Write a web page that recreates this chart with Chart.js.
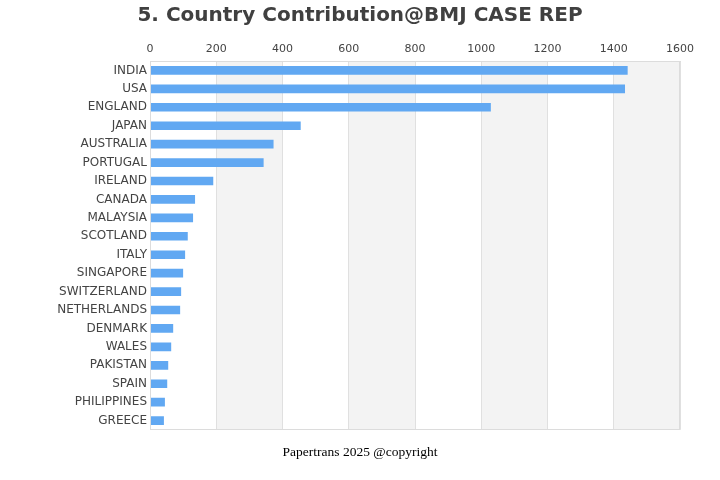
<!DOCTYPE html>
<html>
<head>
<meta charset="utf-8">
<script src="https://cdn.jsdelivr.net/npm/chart.js@4"></script>
<style>
html,body{margin:0;padding:0;background:#fff;}
#wrap{width:720px;height:480px;}
</style>
</head>
<body>
<div id="wrap"><canvas id="c" width="720" height="480"></canvas></div>
<script>
const categories = ["INDIA","USA","ENGLAND","JAPAN","AUSTRALIA","PORTUGAL","IRELAND","CANADA","MALAYSIA","SCOTLAND","ITALY","SINGAPORE","SWITZERLAND","NETHERLANDS","DENMARK","WALES","PAKISTAN","SPAIN","PHILIPPINES","GREECE"];
const counts = [1441,1433,1028,454,372,342,190,135,129,113,105,99,93,90,69,63,54,51,44,41];
const titleText = "5. Country Contribution@BMJ CASE REP";
const footerText = "Papertrans 2025 @copyright";

const bandPlugin = {
  id: 'bands',
  beforeDraw(chart) {
    const {ctx, chartArea, scales} = chart;
    const x = scales.x;
    const ticks = x.ticks;
    ctx.save();
    for (let i = 0; i < ticks.length - 1; i++) {
      if (i % 2 === 1) {
        const x0 = x.getPixelForValue(ticks[i].value);
        const x1 = x.getPixelForValue(ticks[i + 1].value);
        ctx.fillStyle = '#f3f3f3';
        ctx.fillRect(x0, chartArea.top, x1 - x0, chartArea.bottom - chartArea.top);
      }
    }
    ctx.restore();
  },
  afterDatasetsDraw(chart) {
    const {ctx, chartArea} = chart;
    ctx.save();
    ctx.strokeStyle = '#dcdcdc';
    ctx.lineWidth = 1;
    ctx.strokeRect(Math.round(chartArea.left) + 0.5, Math.round(chartArea.top) + 0.5,
      Math.round(chartArea.right - chartArea.left) - 1, Math.round(chartArea.bottom - chartArea.top) - 1);
    ctx.restore();
  }
};

new Chart(document.getElementById('c'), {
  type: 'bar',
  data: {
    labels: categories,
    datasets: [{
      data: counts,
      backgroundColor: '#61a8f2',
      barThickness: 8
    }]
  },
  plugins: [bandPlugin],
  options: {
    indexAxis: 'y',
    responsive: false,
    animation: false,
    layout: { padding: 0 },
    plugins: {
      legend: { display: false },
      tooltip: { enabled: false },
      title: {
        display: true,
        text: titleText,
        color: '#404040',
        font: { family: 'DejaVu Sans', size: 20, weight: 'bold' },
        padding: { top: 4, bottom: 10 }
      },
      subtitle: {
        display: true,
        position: 'bottom',
        text: footerText,
        color: '#000',
        font: { family: 'Liberation Serif', size: 13.5, weight: 'normal' },
        padding: { top: 15, bottom: 19 }
      }
    },
    scales: {
      x: {
        position: 'top',
        min: 0,
        max: 1600,
        ticks: {
          stepSize: 200, color: '#444', font: { family: 'DejaVu Sans', size: 11 }, padding: 5,
          callback: (v) => String(v)
        },
        grid: { color: '#e0e0e0', drawTicks: false, lineWidth: 1 },
        border: { color: '#dcdcdc' }
      },
      y: {
        ticks: { color: '#444', font: { family: 'DejaVu Sans', size: 12 }, padding: 3, autoSkip: false },
        grid: { display: false, drawTicks: false },
        border: { color: '#dcdcdc' },
        afterFit(scale) { scale.width = 150; }
      },
      yRight: {
        position: 'right',
        display: true,
        ticks: { display: false },
        grid: { display: false, drawTicks: false },
        border: { display: false },
        afterFit(scale) { scale.width = 40; }
      }
    }
  }
});
</script>
</body>
</html>
